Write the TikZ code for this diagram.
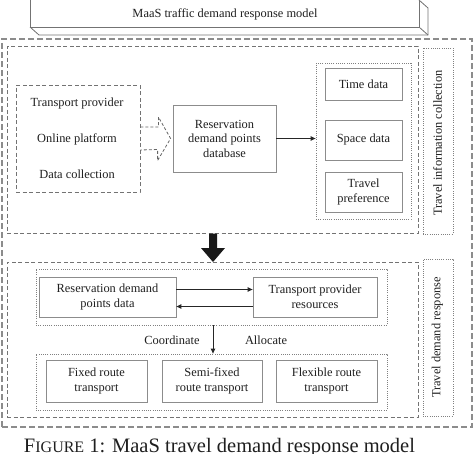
\documentclass[tikz,border=0pt]{standalone}
\usepackage{fontspec}
\setmainfont{Liberation Serif}
\usetikzlibrary{arrows.meta,calc}
\begin{document}
\begin{tikzpicture}[x=1pt,y=-1pt,
  every node/.style={font=\fontsize{12.4}{14.5}\selectfont, text=black!88},
  box/.style={draw=black!45, line width=0.8pt, inner sep=0pt, align=center},
  dbox/.style={draw=black!55, dash pattern=on 4pt off 2.5pt, line width=0.8pt, inner sep=0pt},
  obox/.style={draw=black!45, dash pattern=on 6pt off 3pt, line width=1.6pt, inner sep=0pt},
  tbox/.style={draw=black!50, dash pattern=on 0.8pt off 1.4pt, line width=0.8pt, inner sep=0pt},
  arr/.style={-{Triangle[length=5pt,width=4.5pt]}, line width=0.9pt, draw=black!85},
  shp/.style={draw=black!55, line width=0.8pt},
]
\useasboundingbox (0,0) rectangle (474,453);
\clip (0,0) rectangle (474,453);

% title 3D box
\draw[shp, fill=white] (30,-3) -- (30,27) -- (419,27) -- (419,-3);
\draw[shp] (30,27) -- (39,35) -- (428,35) -- (428,8) -- (419,0);
\draw[shp] (419,27) -- (428,35);
\node (title) at (225,14) {MaaS traffic demand response model};

% outer frame
\node[obox, minimum width=470pt, minimum height=388pt] (outer) at (237,233) {};

% upper section
\node[dbox, minimum width=411pt, minimum height=187pt] (up) at (212.5,139.5) {};
\node[tbox, minimum width=30pt, minimum height=186pt] (tic) at (438,141) {};
\node[rotate=90] (ticl) at (437.5,143) {Travel information collection};

\node[dbox, minimum width=124pt, minimum height=107pt] (src) at (78,138.5) {};
\node (sp1) at (77,104) {Transport provider};
\node (sp2) at (77,139) {Online platform};
\node (sp3) at (77,174) {Data collection};

\node[box, minimum width=103pt, minimum height=67pt] (db) at (224.5,138.5) {Reservation\\demand points\\database};

\node[tbox, minimum width=95pt, minimum height=156pt] (tg) at (363.5,141) {};
\node[box, minimum width=77pt, minimum height=32pt] (time) at (363.5,84) {Time data};
\node[box, minimum width=77pt, minimum height=40pt] (space) at (363.5,140) {Space data};
\node[box, minimum width=77pt, minimum height=40pt] (pref) at (363.5,192) {Travel\\preference};

% dashed block arrow
\draw[draw=black!60, dash pattern=on 3pt off 2pt, line width=0.8pt]
  ([yshift=11.5pt]src.east) -- ++(18,0) -- ++(0,-10) -- ($(db.west)+(-2,0)$)
  -- ++(-13,22) -- ++(0,-11) -- ([yshift=-11.5pt]src.east);

\draw[arr] (db.east) -- (db.east -| tg.west);

% big arrow
\fill[black!90] (209,233.5) -- (217,233.5) -- (217,248) -- (225,248) -- (213,262)
  -- (201,248) -- (209,248) -- cycle;

% lower section
\node[dbox, minimum width=411pt, minimum height=155pt] (low) at (212.5,339.5) {};
\node[tbox, minimum width=30pt, minimum height=157pt] (tdr) at (438,337.5) {};
\node[rotate=90] (tdrl) at (437.5,337.5) {Travel demand response};

\node[tbox, minimum width=351pt, minimum height=56pt] (g1) at (211.5,297) {};
\node[box, minimum width=137pt, minimum height=40pt] (rdp) at (107.5,297) {Reservation demand\\points data};
\node[box, minimum width=124pt, minimum height=40pt] (tpr) at (315,297) {Transport provider\\resources};
\draw[arr] ([yshift=7.5pt]rdp.east) -- ([yshift=7.5pt]tpr.west);
\draw[arr] ([yshift=-9.5pt]tpr.west) -- ([yshift=-9.5pt]rdp.east);

\node[tbox, minimum width=351pt, minimum height=56pt] (g2) at (211.5,382) {};
\coordinate (mx) at (213,0);
\draw[arr] (g1.south -| mx) -- (g2.north -| mx);
\node (coord) at (172,340) {Coordinate};
\node (alloc) at (266,340) {Allocate};

\node[box, minimum width=101pt, minimum height=42pt] (fixed) at (96.5,381) {Fixed route\\transport};
\node[box, minimum width=100pt, minimum height=42pt] (semi) at (212,381) {Semi-fixed\\route transport};
\node[box, minimum width=101pt, minimum height=42pt] (flex) at (326.5,381) {Flexible route\\transport};

% caption
\node[anchor=base, font=\fontsize{20.5}{24}\selectfont] (cap) at (219.5,452)
  {F{\fontsize{16}{20}\selectfont IGURE} 1: MaaS travel demand response model};
\end{tikzpicture}
\end{document}
